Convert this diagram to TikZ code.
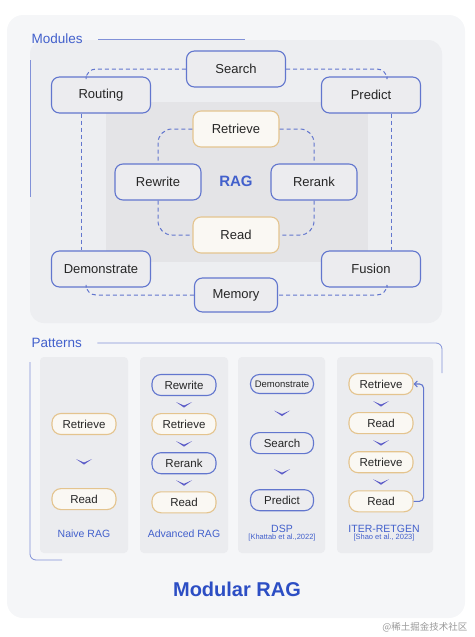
\documentclass[tikz,border=0pt]{standalone}
\usepackage{fontspec}
\setmainfont{Liberation Sans}
\newfontfamily\cjkfont{Noto Sans CJK SC}
\usetikzlibrary{arrows.meta,positioning}

\definecolor{cardbg}{RGB}{245,246,248}
\definecolor{panelbg}{RGB}{237,238,241}
\definecolor{ragbg}{RGB}{228,228,231}
\definecolor{colbg}{RGB}{235,236,239}
\definecolor{nodebg}{RGB}{236,236,239}
\definecolor{warmbg}{RGB}{250,248,243}
\definecolor{blueline}{RGB}{98,118,206}
\definecolor{warmline}{RGB}{228,196,142}
\definecolor{labelblue}{RGB}{66,96,204}
\definecolor{titleblue}{RGB}{44,78,196}
\definecolor{chevcol}{RGB}{92,92,200}

\begin{document}
\begin{tikzpicture}[x=1pt, y=-1pt, node distance=17pt,
    every node/.style={font=\fontsize{13}{15}\selectfont, text=black!85},
    mod/.style={draw=blueline, fill=nodebg, line width=1.1pt, rounded corners=8pt,
      minimum width=99pt, minimum height=36pt, inner sep=2pt},
    core/.style={mod, draw=warmline, fill=warmbg, minimum width=86pt},
    ring/.style={draw=blueline, line width=1pt, dash pattern=on 4pt off 3pt, rounded corners=10pt},
    secline/.style={draw=blueline!80, line width=0.8pt},
    sectlbl/.style={font=\fontsize{13.5}{15}\selectfont, text=labelblue, anchor=west},
    pill/.style={draw, line width=1.1pt, rounded corners=9pt, minimum width=64pt,
      minimum height=21pt, inner sep=1pt, font=\fontsize{11.5}{13}\selectfont},
    pillblue/.style={pill, draw=blueline, fill=nodebg},
    pillwarm/.style={pill, draw=warmline, fill=warmbg},
    collbl/.style={font=\fontsize{10.5}{12}\selectfont, text=labelblue},
    citelbl/.style={font=\fontsize{7.5}{8}\selectfont, text=labelblue},
    loopline/.style={draw=blueline, line width=1.1pt, rounded corners=4pt,
      -{Straight Barb[length=3pt,width=6pt]}},
    chev/.pic={\fill[chevcol] (-8,-2.5) -- (0,1) -- (8,-2.5) -- (0,3) -- cycle;}]
\useasboundingbox (0,0) rectangle (474,637);

% backgrounds
\fill[cardbg, rounded corners=16pt] (7,15) rectangle (465,618);
\fill[panelbg, rounded corners=14pt] (30,40) rectangle (442,323);
\fill[ragbg] (106,102) rectangle (368,262);
\foreach \xa/\xb in {40/128, 140/228, 238/325, 337/433}
  \fill[colbg, rounded corners=4pt] (\xa,357) rectangle (\xb,553);

% section headings
\node[sectlbl] (modlbl) at (28,39) {Modules};
\coordinate (modend) at (245,39);
\coordinate (modtop) at (30,60);
\coordinate (modbot) at (30,197);
\draw[secline] ([xshift=12pt]modlbl.east) -- (modend);
\draw[secline] (modtop) -- (modbot);

\node[sectlbl] (patlbl) at (28,343) {Patterns};
\coordinate (patcorner) at (442,373);
\coordinate (pattop) at (30,362);
\coordinate (patend) at (62,560);
\draw[secline, rounded corners=6pt] ([xshift=12pt]patlbl.east) -| (patcorner);
\draw[secline, rounded corners=6pt] (pattop) |- (patend);

% modules
\node[mod] (search)  at (236,69)  {Search};
\node[mod] (routing) at (101,95)  {Routing};
\node[mod] (predict) at (371,95)  {Predict};
\node[core] (retrieve) at (236,129) {Retrieve};
\node[mod, minimum width=86pt] (rewrite) at (158,182) {Rewrite};
\node[mod, minimum width=86pt] (rerank)  at (314,182) {Rerank};
\node[font=\bfseries\fontsize{15}{17}\selectfont, text=labelblue] (rag) at (236,181) {RAG};
\node[core] (read)   at (236,235) {Read};
\node[mod] (demo)    at (101,269) {Demonstrate};
\node[mod] (fusion)  at (371,269) {Fusion};
\node[mod, minimum width=83pt, minimum height=34pt] (memory) at (236,295) {Memory};

\draw[ring] (search.west) -| ([xshift=-15pt]routing.north);
\draw[ring] (search.east) -| ([xshift=16pt]predict.north);
\draw[ring] ([xshift=-20pt]routing.south) -- ([xshift=-20pt]demo.north);
\draw[ring] ([xshift=20pt]predict.south) -- ([xshift=20pt]fusion.north);
\draw[ring] ([xshift=-15pt]demo.south) |- (memory.west);
\draw[ring] ([xshift=16pt]fusion.south) |- (memory.east);

\draw[ring, rounded corners=14pt] (retrieve.west) -| (rewrite.north);
\draw[ring, rounded corners=14pt] (retrieve.east) -| (rerank.north);
\draw[ring, rounded corners=14pt] (rewrite.south) |- (read.west);
\draw[ring, rounded corners=14pt] (rerank.south) |- (read.east);

% patterns: naive
\node[pillwarm] (nret) at (84,424) {Retrieve};
\node[pillwarm, below=53pt of nret] (nread) {Read};
\path (nret) -- pic[pos=.5]{chev} (nread);
\node[collbl] (naivelbl) at (84,534) {Naive RAG};

% advanced
\node[pillblue] (arew) at (184,385) {Rewrite};
\node[pillwarm, below=of arew] (aret) {Retrieve};
\node[pillblue, below=of aret] (arer) {Rerank};
\node[pillwarm, below=of arer] (aread) {Read};
\path (arew) -- pic[pos=.5]{chev} (aret);
\path (aret) -- pic[pos=.5]{chev} (arer);
\path (arer) -- pic[pos=.5]{chev} (aread);
\node[collbl] (advlbl) at (184,534) {Advanced RAG};

% dsp
\node[pillblue, minimum width=63pt, minimum height=19pt, font=\fontsize{9.5}{11}\selectfont] (ddem) at (282,384) {Demonstrate};
\node[pillblue, minimum width=63pt, below=38pt of ddem] (dsea) {Search};
\node[pillblue, minimum width=63pt, below=35pt of dsea] (dpre) {Predict};
\path (ddem) -- pic[pos=.5]{chev} (dsea);
\path (dsea) -- pic[pos=.5]{chev} (dpre);
\node[collbl] (dsplbl) at (282,529) {DSP};
\node[citelbl] (dspcite) at (282,538) {[Khattab et al.,2022]};

% iter-retgen
\node[pillwarm] (iret1) at (381,384) {Retrieve};
\node[pillwarm, below=of iret1] (iread1) {Read};
\node[pillwarm, below=of iread1] (iret2) {Retrieve};
\node[pillwarm, below=of iret2] (iread2) {Read};
\path (iret1) -- pic[pos=.5]{chev} (iread1);
\path (iread1) -- pic[pos=.5]{chev} (iret2);
\path (iret2) -- pic[pos=.5]{chev} (iread2);
\draw[loopline] (iread2.east) -- ++(10,0) |- (iret1.east);
\node[collbl] (iterlbl) at (384,529) {ITER-RETGEN};
\node[citelbl] (itercite) at (384,538) {[Shao et al., 2023]};

% title and mark
\node[font=\bfseries\fontsize{20}{24}\selectfont, text=titleblue] (title) at (237,589) {Modular RAG};
\node[anchor=east, font=\cjkfont\fontsize{9.5}{11}\selectfont, text=black!40] (mark) at (471,627) {@稀土掘金技术社区};
\end{tikzpicture}
\end{document}
